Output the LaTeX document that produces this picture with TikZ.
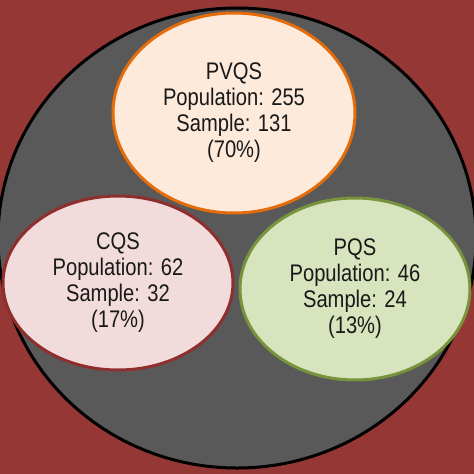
\documentclass[tikz,border=0pt]{standalone}
\usepackage{fontspec}
\setmainfont{Liberation Sans}
\newfontfamily\narrowfont[FakeStretch=0.84]{Liberation Sans}
\usetikzlibrary{shapes.geometric}
\definecolor{bgred}{HTML}{953735}
\definecolor{ringgray}{HTML}{595959}
\definecolor{pvqsline}{HTML}{E46C0A}
\definecolor{pvqsfill}{HTML}{FDEADA}
\definecolor{cqsline}{HTML}{8E2F2E}
\definecolor{cqsfill}{HTML}{F2DCDB}
\definecolor{pqsline}{HTML}{77933C}
\definecolor{pqsfill}{HTML}{D7E4BD}
\begin{document}
\begin{tikzpicture}[x=1pt, y=-1pt,
    group/.style={ellipse, line width=3pt, inner sep=0pt, align=center,
      font=\narrowfont\fontsize{24}{26}\selectfont, text=black!90}]
    % Hintergrund
    \useasboundingbox (0,0) rectangle (474,474);
    \fill[bgred] (0,0) rectangle (474,474);
    \draw[black, line width=3pt, fill=ringgray] (237,238) ellipse [x radius=239, y radius=230];

    % Gruppen
    \node[group, draw=pvqsline, fill=pvqsfill, minimum width=242, minimum height=200] (pvqs) at (234,113)
      {PVQS\\Population: 255\\Sample: 131\\(70\%)};
    \node[group, draw=cqsline, fill=cqsfill, minimum width=230, minimum height=174] (cqs) at (118,283)
      {CQS\\Population: 62\\Sample: 32\\(17\%)};
    \node[group, draw=pqsline, fill=pqsfill, minimum width=230, minimum height=182] (pqs) at (355,289)
      {PQS\\Population: 46\\Sample: 24\\(13\%)};
\end{tikzpicture}
\end{document}
